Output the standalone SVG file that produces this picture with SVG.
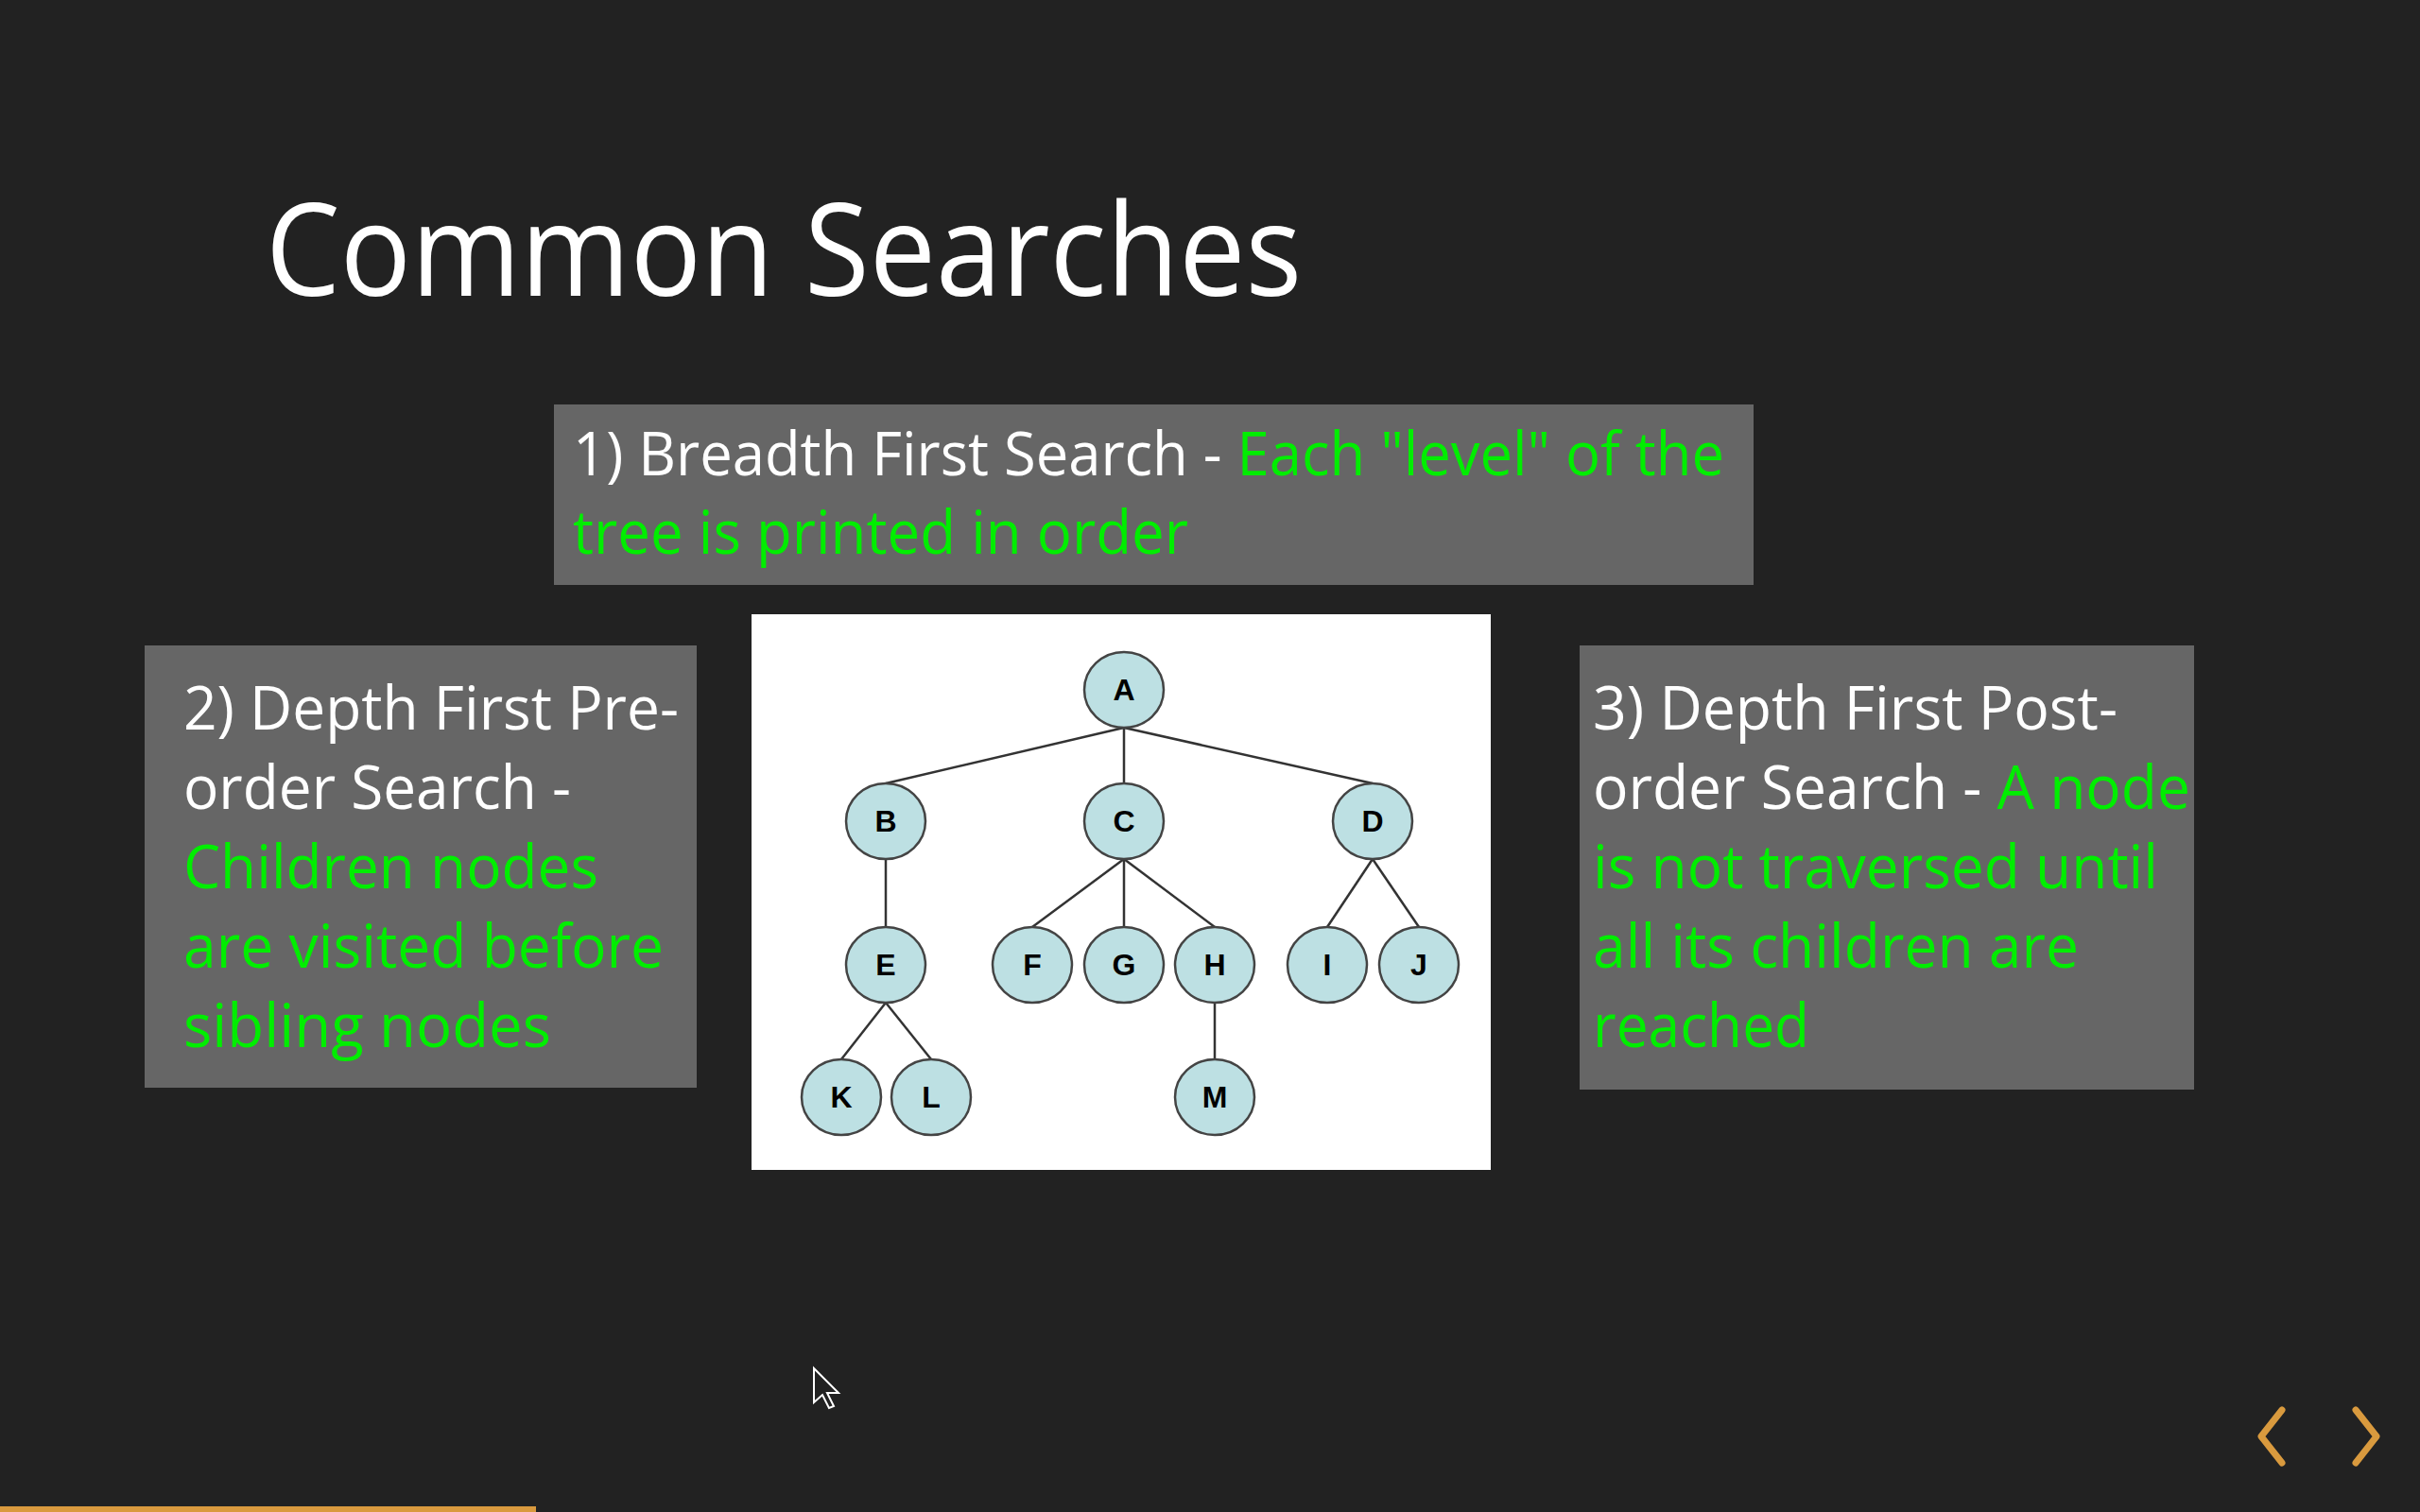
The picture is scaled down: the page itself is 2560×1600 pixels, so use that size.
<svg xmlns="http://www.w3.org/2000/svg" width="2560" height="1600" viewBox="0 0 2560 1600">
<style>
.t{font-family:"Open Sans","Liberation Sans",sans-serif;font-size:64px;fill:#ffffff}
.g{fill:#00ee00}
.box{fill:#666666}
.n ellipse{fill:#bde0e3;stroke:#444;stroke-width:2.5}
.n text{font-family:"Liberation Sans",Arial,sans-serif;font-weight:bold;font-size:32px;fill:#000;text-anchor:middle}
.e line{stroke:#333;stroke-width:2.5}
</style>
<rect width="2560" height="1600" fill="#222222"/>
<text x="281" y="313" font-family="Open Sans, Liberation Sans, sans-serif" font-size="136" fill="#fff" textLength="1096" lengthAdjust="spacingAndGlyphs">Common Searches</text>
<g id="box1"><rect class="box" x="586" y="428" width="1269" height="191"/>
<text class="t" x="606" y="503" textLength="1218" lengthAdjust="spacingAndGlyphs">1) Breadth First Search - <tspan class="g">Each "level" of the</tspan></text>
<text class="t g" x="606" y="586" textLength="651" lengthAdjust="spacingAndGlyphs">tree is printed in order</text></g>
<g id="box2"><rect class="box" x="153" y="683" width="584" height="468"/>
<text class="t" x="194" y="772" textLength="524" lengthAdjust="spacingAndGlyphs">2) Depth First Pre-</text>
<text class="t" x="194" y="856" textLength="410" lengthAdjust="spacingAndGlyphs">order Search -</text>
<text class="t g" x="194" y="940" textLength="439" lengthAdjust="spacingAndGlyphs">Children nodes</text>
<text class="t g" x="194" y="1024" textLength="508" lengthAdjust="spacingAndGlyphs">are visited before</text>
<text class="t g" x="194" y="1108" textLength="389" lengthAdjust="spacingAndGlyphs">sibling nodes</text></g>
<g id="box3"><rect class="box" x="1671" y="683" width="650" height="470"/>
<text class="t" x="1685" y="772" textLength="555" lengthAdjust="spacingAndGlyphs">3) Depth First Post-</text>
<text class="t" x="1685" y="856" textLength="632" lengthAdjust="spacingAndGlyphs">order Search - <tspan class="g">A node</tspan></text>
<text class="t g" x="1685" y="940" textLength="598" lengthAdjust="spacingAndGlyphs">is not traversed until</text>
<text class="t g" x="1685" y="1024" textLength="514" lengthAdjust="spacingAndGlyphs">all its children are</text>
<text class="t g" x="1685" y="1108" textLength="229" lengthAdjust="spacingAndGlyphs">reached</text></g>
<rect x="795" y="650" width="782" height="588" fill="#ffffff"/>
<g id="edges" class="e">
<line x1="1189" y1="770" x2="937" y2="829"/><line x1="1189" y1="770" x2="1189" y2="829"/><line x1="1189" y1="770" x2="1452" y2="829"/>
<line x1="937" y1="909" x2="937" y2="981"/>
<line x1="1189" y1="909" x2="1092" y2="981"/><line x1="1189" y1="909" x2="1189" y2="981"/><line x1="1189" y1="909" x2="1285" y2="981"/>
<line x1="1452" y1="909" x2="1404" y2="981"/><line x1="1452" y1="909" x2="1501" y2="981"/>
<line x1="937" y1="1061" x2="890" y2="1121"/><line x1="937" y1="1061" x2="985" y2="1121"/>
<line x1="1285" y1="1061" x2="1285" y2="1121"/>
</g>
<g id="A" class="n"><ellipse cx="1189" cy="730" rx="42" ry="40"/><text x="1189" y="741">A</text></g>
<g id="B" class="n"><ellipse cx="937" cy="869" rx="42" ry="40"/><text x="937" y="880">B</text></g>
<g id="C" class="n"><ellipse cx="1189" cy="869" rx="42" ry="40"/><text x="1189" y="880">C</text></g>
<g id="D" class="n"><ellipse cx="1452" cy="869" rx="42" ry="40"/><text x="1452" y="880">D</text></g>
<g id="E" class="n"><ellipse cx="937" cy="1021" rx="42" ry="40"/><text x="937" y="1032">E</text></g>
<g id="F" class="n"><ellipse cx="1092" cy="1021" rx="42" ry="40"/><text x="1092" y="1032">F</text></g>
<g id="G" class="n"><ellipse cx="1189" cy="1021" rx="42" ry="40"/><text x="1189" y="1032">G</text></g>
<g id="H" class="n"><ellipse cx="1285" cy="1021" rx="42" ry="40"/><text x="1285" y="1032">H</text></g>
<g id="I" class="n"><ellipse cx="1404" cy="1021" rx="42" ry="40"/><text x="1404" y="1032">I</text></g>
<g id="J" class="n"><ellipse cx="1501" cy="1021" rx="42" ry="40"/><text x="1501" y="1032">J</text></g>
<g id="K" class="n"><ellipse cx="890" cy="1161" rx="42" ry="40"/><text x="890" y="1172">K</text></g>
<g id="L" class="n"><ellipse cx="985" cy="1161" rx="42" ry="40"/><text x="985" y="1172">L</text></g>
<g id="M" class="n"><ellipse cx="1285" cy="1161" rx="42" ry="40"/><text x="1285" y="1172">M</text></g>
<polygon points="861,1448 861,1484 870,1476 877,1490 882,1488 875,1474 887,1474" fill="#222" stroke="#fff" stroke-width="2"/>
<polyline points="2414,1492 2392,1520 2414,1548" fill="none" stroke="#d99a3e" stroke-width="7" stroke-linecap="round" stroke-linejoin="round"/>
<polyline points="2492,1492 2514,1520 2492,1548" fill="none" stroke="#d99a3e" stroke-width="7" stroke-linecap="round" stroke-linejoin="round"/>
<rect x="0" y="1594" width="567" height="6" fill="#d99a3e"/>
</svg>
